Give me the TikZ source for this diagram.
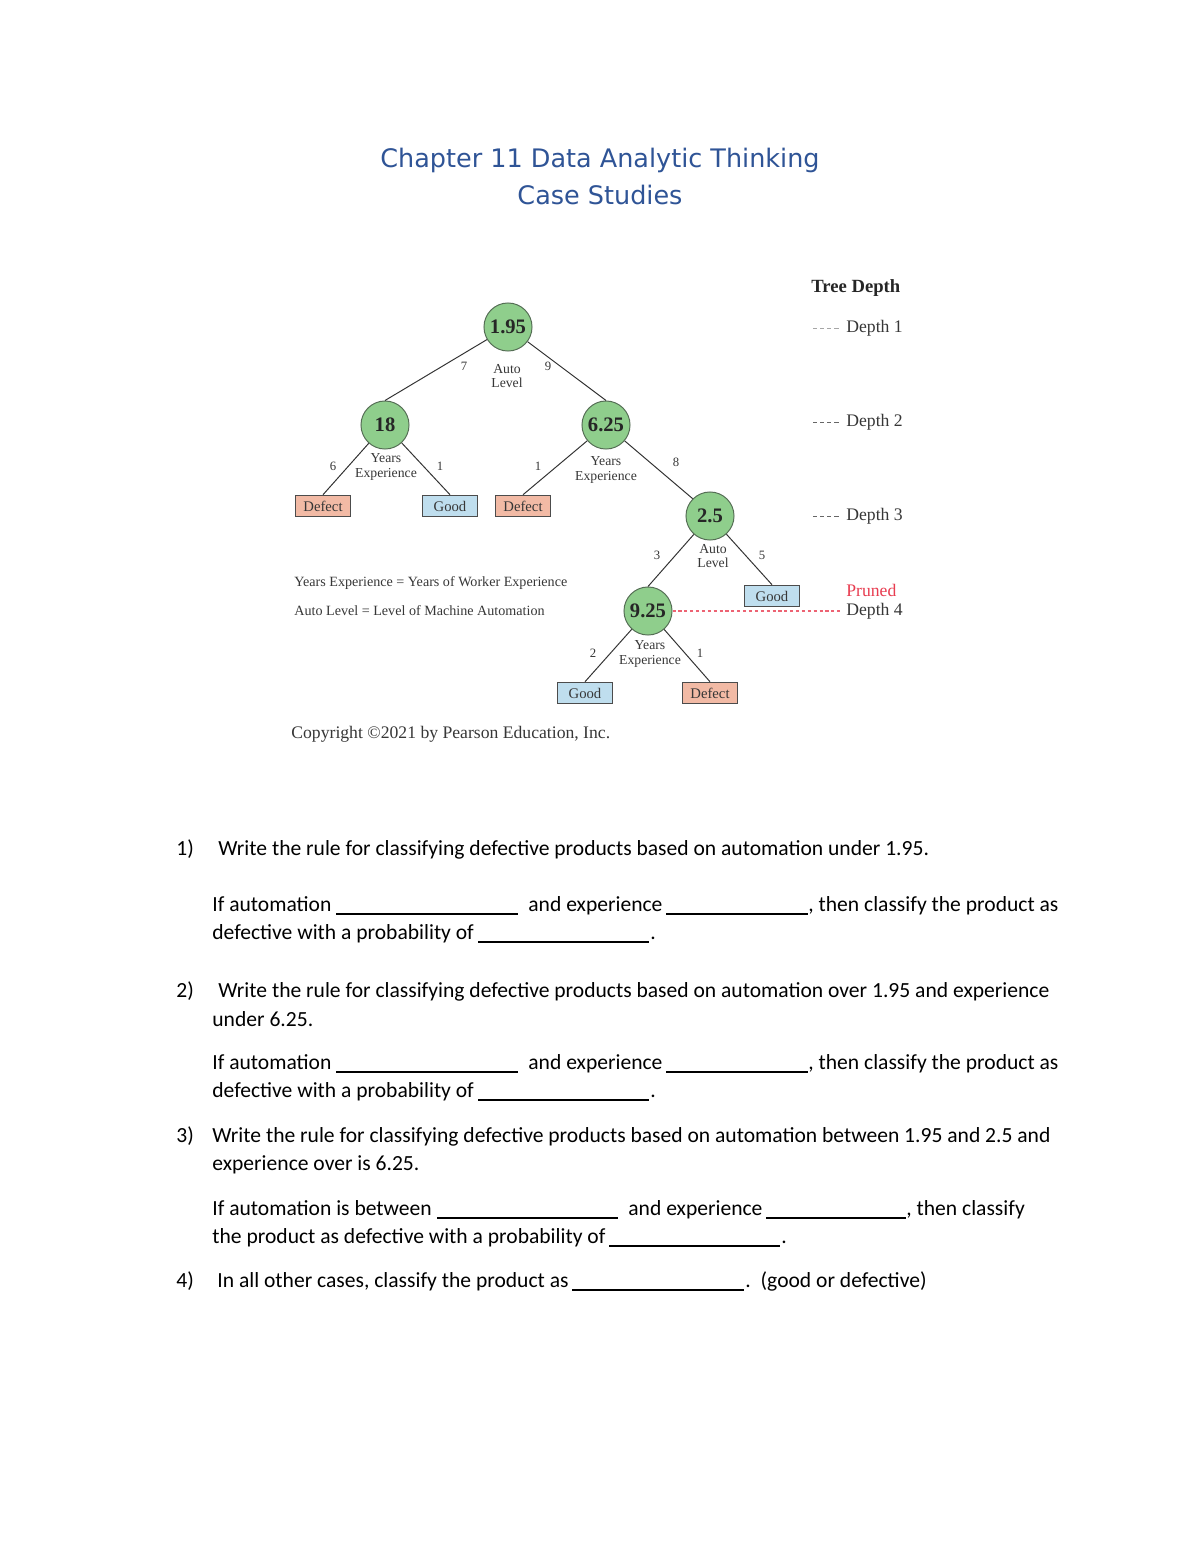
\documentclass[tikz,border=0pt]{standalone}
\usepackage{fontspec}
\setmainfont{Carlito}
\newfontfamily\dfont{Liberation Serif}
\newfontfamily\tfont{DejaVu Sans}
\definecolor{titleblue}{RGB}{47,84,150}
\definecolor{cgreen}{RGB}{143,206,140}
\definecolor{cgreenline}{RGB}{85,110,85}
\definecolor{dfill}{RGB}{242,186,165}
\definecolor{gfill}{RGB}{191,222,238}
\definecolor{dtext}{RGB}{55,55,55}
\definecolor{prunered}{RGB}{232,60,80}
\begin{document}
\begin{tikzpicture}[x=0.51pt,y=-0.51pt,
  splitnode/.style={circle, draw=cgreenline, fill=cgreen, line width=0.5pt, minimum size=24.5pt, inner sep=0pt, font=\dfont\bfseries\fontsize{10.5}{12}\selectfont, text=black!85},
  leafbox/.style={draw=black!70, line width=0.5pt, minimum width=28.5pt, minimum height=11pt, inner sep=0pt, font=\dfont\fontsize{7.5}{9}\selectfont, text=dtext},
  defectbox/.style={leafbox, fill=dfill},
  goodbox/.style={leafbox, fill=gfill},
  treeedge/.style={draw=black!80, line width=0.5pt},
  elabel/.style={font=\dfont\fontsize{6.5}{7}\selectfont, text=dtext, inner sep=0pt},
  vlabel/.style={font=\dfont\fontsize{7}{7.2}\selectfont, text=dtext, align=center, inner sep=0pt},
  deflabel/.style={anchor=base west, font=\dfont\fontsize{7.2}{8}\selectfont, text=dtext, inner sep=0pt},
  depthlabel/.style={anchor=base west, font=\dfont\fontsize{9}{10}\selectfont, text=dtext, inner sep=0pt},
  legenddash/.style={draw=black!60, line width=0.5pt, dash pattern=on 2.2pt off 1.4pt},
  prune/.style={draw=prunered!80, line width=0.6pt, dash pattern=on 1.6pt off 1.4pt},
  body/.style={anchor=base west, inner sep=0pt, font=\fontsize{11}{13}\selectfont},
  blank/.style={line width=0.55pt},
]
\useasboundingbox[fill=white] (0,0) rectangle (1200,1553);

% Title
\node[font=\tfont\fontsize{13}{16}\selectfont, text=titleblue] (title1) at (600,160) {Chapter 11 Data Analytic Thinking};
\node[font=\tfont\fontsize{13}{16}\selectfont, text=titleblue] (title2) at (600,195) {Case Studies};

% Tree
\node[splitnode] (n195) at (508,327) {1.95};
\node[splitnode] (n18)  at (385,425) {18};
\node[splitnode] (n625) at (606,425) {6.25};
\node[splitnode] (n25)  at (710,516) {2.5};
\node[splitnode] (n925) at (648,611) {9.25};
\node[defectbox] (d1) at (323,506) {Defect};
\node[goodbox]   (g1) at (450,506) {Good};
\node[defectbox] (d2) at (523,506) {Defect};
\node[goodbox]   (g2) at (772,596) {Good};
\node[goodbox]   (g3) at (585,693) {Good};
\node[defectbox] (d3) at (710,693) {Defect};

\draw[treeedge] (n195) -- (n18.north);
\draw[treeedge] (n195) -- (n625.north);
\draw[treeedge] (n18) -- (d1.north);
\draw[treeedge] (n18) -- (g1.north);
\draw[treeedge] (n625) -- (d2.north);
\draw[treeedge] (n625) -- (n25.north west);
\draw[treeedge] (n25) -- (n925.north);
\draw[treeedge] (n25) -- (g2.north);
\draw[treeedge] (n925) -- (g3.north);
\draw[treeedge] (n925) -- (d3.north);

% Edge counts
\node[elabel] (e7) at (464,366) {7};
\node[elabel] (e9) at (548,366) {9};
\node[elabel] (e6) at (333,466) {6};
\node[elabel] (e1a) at (440,466) {1};
\node[elabel] (e1b) at (538,466) {1};
\node[elabel] (e8) at (676,462) {8};
\node[elabel] (e3) at (657,555) {3};
\node[elabel] (e5) at (762,555) {5};
\node[elabel] (e2) at (593,653) {2};
\node[elabel] (e1c) at (700,653) {1};

% Variable labels
\node[vlabel] (v1) at (507,376) {Auto\\Level};
\node[vlabel] (v2) at (386,467) {Years\\Experience};
\node[vlabel] (v3) at (606,470) {Years\\Experience};
\node[vlabel] (v4) at (713,556) {Auto\\Level};
\node[vlabel] (v5) at (650,654) {Years\\Experience};

% Definitions
\node[deflabel] (def1) at (294,586) {Years Experience = Years of Worker Experience};
\node[deflabel] (def2) at (294,615) {Auto Level = Level of Machine Automation};
\node[anchor=base west, font=\dfont\fontsize{9}{10}\selectfont, text=dtext, inner sep=0pt] (copy) at (291,738) {Copyright \textcopyright2021 by Pearson Education, Inc.};

% Legend
\node[anchor=base west, font=\dfont\bfseries\fontsize{9.5}{11}\selectfont, text=black!85, inner sep=0pt] (legtitle) at (811,292) {Tree Depth};
\node[depthlabel] (dep1) at (846,332) {Depth 1};
\node[depthlabel] (dep2) at (846,426) {Depth 2};
\node[depthlabel] (dep3) at (846,520) {Depth 3};
\node[depthlabel, text=prunered] (pruned) at (846,596) {Pruned};
\node[depthlabel] (dep4) at (846,615) {Depth 4};
\coordinate (l1a) at (813,328); \coordinate (l1b) at (840,328);
\coordinate (l2a) at (813,422); \coordinate (l2b) at (840,422);
\coordinate (l3a) at (813,516); \coordinate (l3b) at (840,516);
\draw[legenddash, draw=black!35] (l1a) -- (l1b);
\draw[legenddash] (l2a) -- (l2b);
\draw[legenddash] (l3a) -- (l3b);
\coordinate (p4) at (840,611);
\draw[prune] (n925.east) -- (p4);

% Questions
\node[body] (q1n) at (176,855) {1)};
\node[body] (q1) at (218,855) {Write the rule for classifying defective products based on automation under 1.95.};
\node[body] (q1a) at (212,911) {If automation};
\draw[blank] (336,914) -- (518,914);
\node[body] (q1b) at (528,911) {and experience};
\draw[blank] (666,914) -- (808,914);
\node[body] (q1c) at (808,911) {, then classify the product as};
\node[body] (q1d) at (212,939) {defective with a probability of};
\draw[blank] (478,942) -- (649,942);
\node[body] (q1e) at (650,939) {.};

\node[body] (q2n) at (176,997) {2)};
\node[body] (q2) at (218,997) {Write the rule for classifying defective products based on automation over 1.95 and experience};
\node[body] (q2x) at (212,1026) {under 6.25.};
\node[body] (q2a) at (212,1069) {If automation};
\draw[blank] (336,1072) -- (518,1072);
\node[body] (q2b) at (528,1069) {and experience};
\draw[blank] (666,1072) -- (808,1072);
\node[body] (q2c) at (808,1069) {, then classify the product as};
\node[body] (q2d) at (212,1097) {defective with a probability of};
\draw[blank] (478,1100) -- (649,1100);
\node[body] (q2e) at (650,1097) {.};

\node[body] (q3n) at (176,1142) {3)};
\node[body] (q3) at (212,1142) {Write the rule for classifying defective products based on automation between 1.95 and 2.5 and};
\node[body] (q3x) at (212,1170) {experience over is 6.25.};
\node[body] (q3a) at (212,1215) {If automation is between};
\draw[blank] (437,1218) -- (618,1218);
\node[body] (q3b) at (628,1215) {and experience};
\draw[blank] (766,1218) -- (906,1218);
\node[body] (q3c) at (906,1215) {, then classify};
\node[body] (q3d) at (212,1243) {the product as defective with a probability of};
\draw[blank] (609,1246) -- (780,1246);
\node[body] (q3e) at (781,1243) {.};

\node[body] (q4n) at (176,1287) {4)};
\node[body] (q4) at (217,1287) {In all other cases, classify the product as};
\draw[blank] (572,1290) -- (744,1290);
\node[body] (q4b) at (745,1287) {.\ \ (good or defective)};
\end{tikzpicture}
\end{document}
